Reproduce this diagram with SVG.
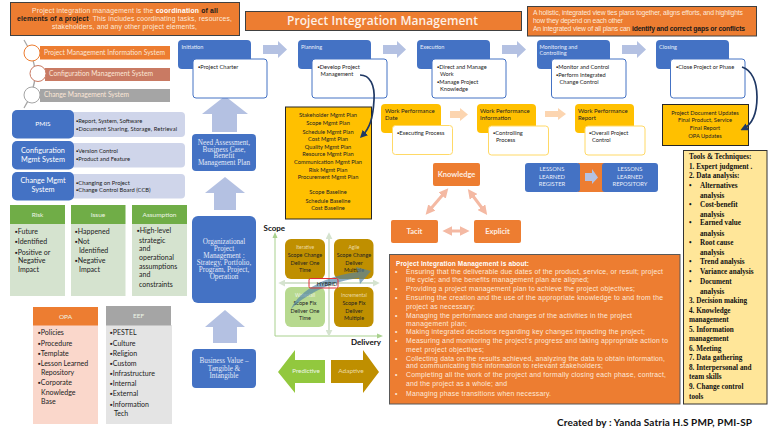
<svg xmlns="http://www.w3.org/2000/svg" width="768" height="433" viewBox="0 0 768 433">
<style>
text{font-family:"Liberation Sans",Arial,sans-serif;font-size:6px;fill:#222}
.c{text-anchor:middle}
.a7{font-size:6.800px;fill:#fde9da}
.dk{font-weight:bold;fill:#1a1a1a}
.wb{font-weight:bold;fill:#fff}
.bar{font-family:Lato,sans-serif;font-size:6.700px;fill:#fbe5d6}
.hw{font-family:Lato,sans-serif;font-size:7.300px;fill:#fff}
.it{font-family:Lato,sans-serif;font-size:5.800px}
.pr{font-family:Lato,sans-serif;font-size:5.700px}
.ph{font-family:Lato,sans-serif;font-size:5.600px;fill:#e8eefa}
.gh{font-family:Lato,sans-serif;font-size:6.500px;fill:#eef5e8}
.li{font-family:Lato,sans-serif;font-size:7px}
.yl{font-family:Lato,sans-serif;font-size:5.700px}
.yh{font-family:Lato,sans-serif;font-size:6px}
.kt{font-family:Lato,sans-serif;font-size:7.500px;font-weight:bold;fill:#fdeee4}
.lt{font-family:Lato,sans-serif;font-size:5.800px;fill:#e8eefa}
.tl{font-family:"Liberation Serif",serif;font-weight:bold;font-size:7.200px;fill:#111}
.se{font-family:"Liberation Serif",serif;font-size:7.200px;fill:#e3e9f7}
.qh{font-family:Lato,sans-serif;font-size:5px;fill:#ecdba8}
.qt{font-family:Lato,sans-serif;font-size:5.500px;fill:#222}
.ax{font-family:Lato,sans-serif;font-size:8px;font-weight:bold;fill:#111}
.o{fill:#ed7d31;stroke:#404040;stroke-width:1}
.b{fill:#4472c4}
.in{fill:#fff;stroke:#4472c4;stroke-width:1}
.y{fill:#ffc000}
.yi{fill:#fff;stroke:#ffd966;stroke-width:1}
.yb{fill:#ffc000;stroke:#262626;stroke-width:1}
.ar{fill:#b4c1e2}
.ya{fill:#fcd5b0}
.lr{fill:#cfd5ea}
.g{fill:#70ad47}
.gb{fill:#d5e3cf}
.gold{fill:#bf8f00}
.kb{fill:#ed7d31}
</style>
<defs>
<marker id="am" viewBox="0 0 8 8" refX="5" refY="4" markerWidth="4.500" markerHeight="4.500" orient="auto"><path d="M0 0L8 4L0 8Z" fill="#1f3864"/></marker>
<marker id="la" viewBox="0 0 8 8" refX="6" refY="4" markerWidth="3.500" markerHeight="3.500" orient="auto-start-reverse"><path d="M0 0L8 4L0 8Z" fill="#d5e3cf"/></marker>
<marker id="pa" viewBox="0 0 8 8" refX="5" refY="4" markerWidth="3.200" markerHeight="3.200" orient="auto-start-reverse"><path d="M0 0L8 4L0 8Z" fill="#f4b9a3"/></marker>
</defs>
<rect width="768" height="433" fill="#fff"/>

<g id="intro"><rect class="o" x="10.500" y="2.500" width="229" height="33"/>
<text class="a7" x="32" y="13" textLength="186">Project integration management is the <tspan font-weight="bold" fill="#fff">coordination</tspan> <tspan class="dk">of all</tspan></text>
<text class="a7" x="17" y="21" textLength="215"><tspan class="dk">elements of a project</tspan>. This includes coordinating tasks, resources,</text>
<text class="a7" x="52" y="29" textLength="145">stakeholders, and any other project elements,</text></g>
<g id="title"><rect class="o" x="245.500" y="11.500" width="276" height="19"/>
<text x="287" y="25" textLength="191" style="font-size:12px;font-family:'Open Sans',sans-serif;font-weight:600;fill:#fdf0e6">Project Integration Management</text></g>
<g id="holistic"><rect class="o" x="527.500" y="6.500" width="229" height="29.500"/>
<text class="a7" x="533" y="15" textLength="210">A holistic, integrated view ties plans together, aligns efforts, and highlights</text>
<text class="a7" x="533" y="22.500" textLength="90">how they depend on each other</text>
<text class="a7" x="533" y="30.500" textLength="212">An integrated view of all plans can <tspan class="dk">identify and correct gaps or conflicts</tspan></text></g>

<g id="sys-arc"><path d="M24 40Q46 74 24 108" fill="none" stroke="#a6a6a6" stroke-width="1.300"/></g>
<g id="pmis-bar"><rect x="40" y="46" width="130" height="13.500" fill="#ed7d31"/><circle cx="32" cy="53" r="8" fill="#fff" stroke="#ed7d31"/><text class="bar" x="44" y="54.800" textLength="121">Project Management Information System</text></g>
<g id="config-bar"><rect x="45" y="68" width="125" height="13" fill="#c97a63"/><circle cx="38" cy="73.500" r="8" fill="#fff" stroke="#c97a63"/><text class="bar" x="49" y="76" textLength="104">Configuration Management System</text></g>
<g id="change-bar"><rect x="40" y="89" width="130" height="13" fill="#a5a5a5"/><circle cx="32" cy="95" r="8" fill="#fff" stroke="#a5a5a5"/><text class="bar" x="44" y="97.300" textLength="85">Change Management System</text></g>

<g id="pmis"><rect class="lr" x="60" y="112" width="125" height="25" rx="4"/><rect class="b" x="12" y="110" width="62" height="28.500" rx="5"/>
<text class="hw c" x="43" y="126" style="font-size:6.500px">PMIS</text>
<text class="it" x="76" y="122.500">▪Report, System, Software</text><text class="it" x="76" y="130.500" textLength="101">▪Document Sharing, Storage, Retrieval</text></g>
<g id="config"><rect class="lr" x="60" y="143" width="125" height="24.500" rx="4"/><rect class="b" x="12" y="141" width="62" height="28.500" rx="5"/>
<text class="hw c" x="43" y="153">Configuration</text><text class="hw c" x="43" y="161.500">Mgmt System</text>
<text class="it" x="76" y="153">▪Version Control</text><text class="it" x="76" y="161">▪Product and Feature</text></g>
<g id="change"><rect class="lr" x="60" y="174" width="125" height="24.500" rx="4"/><rect class="b" x="12" y="172" width="62" height="28.500" rx="5"/>
<text class="hw c" x="43" y="183">Change Mgmt</text><text class="hw c" x="43" y="192">System</text>
<text class="it" x="76" y="184.500">▪Changing on Project</text><text class="it" x="76" y="192">▪Change Control Board (CCB)</text></g>

<g id="risk"><rect class="gb" x="10" y="224" width="55" height="72"/><rect class="g" x="10" y="205" width="55" height="19"/>
<text class="gh c" x="37.500" y="216.500">Risk</text>
<text class="li" x="15" y="234">▪Future</text><text class="li" x="15" y="244">▪Identified</text><text class="li" x="15" y="255">▪Positive or</text><text class="li" x="18" y="263">Negative</text><text class="li" x="18" y="272">Impact</text></g>
<g id="issue"><rect class="gb" x="71" y="224" width="54.500" height="72"/><rect class="g" x="71" y="205" width="54.500" height="19"/>
<text class="gh c" x="98" y="216.500">Issue</text>
<text class="li" x="75" y="234">▪Happened</text><text class="li" x="75" y="244">▪Not</text><text class="li" x="79" y="253">Identified</text><text class="li" x="75" y="263">▪Negative</text><text class="li" x="79" y="272">Impact</text></g>
<g id="assumption"><rect class="gb" x="132" y="224" width="55" height="72"/><rect class="g" x="132" y="205" width="55" height="19"/>
<text class="gh c" x="159.500" y="216.500">Assumption</text>
<text class="li" x="137" y="233">▪High-level</text><text class="li" x="139" y="243">strategic</text><text class="li" x="139" y="251">and</text><text class="li" x="139" y="260">operational</text><text class="li" x="139" y="269">assumptions</text><text class="li" x="139" y="277">and</text><text class="li" x="139" y="287">constraints</text></g>

<g id="opa"><rect x="33" y="325" width="65" height="99" fill="#fad7cb"/><rect x="33" y="307" width="65" height="18.500" fill="#ed7d31"/>
<text class="gh c" x="65.500" y="318.500">OPA</text>
<text class="li" x="38" y="335">▪Policies</text><text class="li" x="38" y="346">▪Procedure</text><text class="li" x="38" y="356">▪Template</text><text class="li" x="38" y="366">▪Lesson Learned</text><text class="li" x="41" y="375">Repository</text><text class="li" x="38" y="385">▪Corporate</text><text class="li" x="41" y="395">Knowledge</text><text class="li" x="41" y="404">Base</text></g>
<g id="eef"><rect x="106" y="325" width="66" height="99" fill="#e4e4e4"/><rect x="106" y="306" width="65" height="19.500" fill="#a5a5a5"/>
<text class="gh c" x="138.500" y="318">EEF</text>
<text class="li" x="110" y="335">▪PESTEL</text><text class="li" x="110" y="346">▪Culture</text><text class="li" x="110" y="356">▪Religion</text><text class="li" x="110" y="366">▪Custom</text><text class="li" x="110" y="376">▪Infrastructure</text><text class="li" x="110" y="386">▪Internal</text><text class="li" x="110" y="396">▪External</text><text class="li" x="110" y="407">▪Information</text><text class="li" x="114" y="416">Tech</text></g>

<g id="process-arrows">
<path class="ar" d="M263 45H278V41L287 49.500L278 58V54H263Z"/>
<path class="ar" d="M383 45H397V41L406 49.500L397 58V54H383Z"/>
<path class="ar" d="M502 45H517V41L526 49.500L517 58V54H502Z"/>
<path class="ar" d="M622 45H637V41L646 49.500L637 58V54H622Z"/>
<path class="ar" d="M202 114L225 96L248 114H237V132H212V114Z"/>
<path class="ar" d="M205 193L225 177L245 193H236V210H214V193Z"/>
<path class="ar" d="M205 327L225 310L245 327H237V343H213V327Z"/>
<path class="ya" d="M450 111H460V108L468 114.500L460 121V118H450Z"/>
<path class="ya" d="M545 111H558V108L566 114L558 120V117H545Z"/>
</g>

<g id="initiation"><rect class="b" x="178" y="40" width="73" height="29" rx="4"/><text class="ph" x="181.500" y="48.500">Initiation</text><rect class="in" x="193" y="59" width="74" height="39" rx="3"/><text class="pr" x="198" y="68.800">▪Project Charter</text></g>
<g id="planning"><rect class="b" x="298" y="40" width="73" height="29" rx="4"/><text class="ph" x="301" y="48.500">Planning</text><rect class="in" x="312" y="59" width="75" height="39" rx="3"/><text class="pr" x="317.500" y="68.800">▪Develop Project</text><text class="pr" x="320.500" y="76">Management</text></g>
<g id="execution"><rect class="b" x="417" y="40" width="73" height="29" rx="4"/><text class="ph" x="420" y="48.500">Execution</text><rect class="in" x="432" y="59" width="74" height="39" rx="3"/><text class="pr" x="437" y="68.800">▪Direct and Manage</text><text class="pr" x="440" y="75.800">Work</text><text class="pr" x="437" y="84">▪Manage Project</text><text class="pr" x="440" y="91">Knowledge</text></g>
<g id="monitoring"><rect class="b" x="537" y="40" width="73" height="29" rx="4"/><text class="ph" x="539.500" y="48.500">Monitoring and</text><text class="ph" x="539.500" y="54.500">Controlling</text><rect class="in" x="551.500" y="59" width="74.500" height="39" rx="3"/><text class="pr" x="556" y="68.800">▪Monitor and Control</text><text class="pr" x="556" y="76.800">▪Perform Integrated</text><text class="pr" x="559.500" y="83.800">Change Control</text></g>
<g id="closing"><rect class="b" x="656" y="40" width="73" height="29" rx="4"/><text class="ph" x="659" y="48.500">Closing</text><rect class="in" x="670.500" y="59" width="74.500" height="39" rx="3"/><text class="pr" x="676" y="68.800">▪Close Project or Phase</text></g>

<g id="plan-list"><rect class="yb" x="285.500" y="107" width="86" height="112"/>
<text class="yl c" x="328" y="117">Stakeholder Mgmt Plan</text><text class="yl c" x="328" y="125">Scope Mgmt Plan</text><text class="yl c" x="328" y="133.500">Schedule Mgmt Plan</text><text class="yl c" x="328" y="140.500">Cost Mgmt Plan</text><text class="yl c" x="328" y="148.800">Quality Mgmt Plan</text><text class="yl c" x="328" y="156">Resource Mgmt Plan</text><text class="yl c" x="328" y="164">Communication Mgmt Plan</text><text class="yl c" x="328" y="172">Risk Mgmt Plan</text><text class="yl c" x="328" y="179">Procurement Mgmt Plan</text><text class="yl c" x="328" y="194">Scope Baseline</text><text class="yl c" x="328" y="202.500">Schedule Baseline</text><text class="yl c" x="328" y="210">Cost Baseline</text></g>
<g id="wp-data"><rect class="y" x="381" y="104" width="60" height="29" rx="4"/><text class="yh" x="385" y="112.500">Work Performance</text><text class="yh" x="385" y="119.500">Date</text><rect class="yi" x="392.500" y="125.500" width="60" height="29" rx="3"/><text class="pr" x="397" y="135">▪Executing Process</text></g>
<g id="wp-info"><rect class="y" x="477" y="104" width="59" height="29" rx="4"/><text class="yh" x="480" y="112.500">Work Performance</text><text class="yh" x="480" y="119.500">Information</text><rect class="yi" x="488.500" y="126" width="60" height="29" rx="3"/><text class="pr" x="493" y="135">▪Controlling</text><text class="pr" x="496" y="141.500">Process</text></g>
<g id="wp-report"><rect class="y" x="575" y="104" width="59" height="29" rx="4"/><text class="yh" x="578" y="112.500">Work Performance</text><text class="yh" x="578" y="119.500">Report</text><rect class="yi" x="585" y="126" width="60" height="29" rx="3"/><text class="pr" x="589" y="135">▪Overall Project</text><text class="pr" x="592" y="141.500">Control</text></g>
<g id="closing-out"><rect class="yb" x="662.500" y="104.500" width="86" height="41"/>
<text class="yl c" x="705" y="114.500">Project Document Updates</text><text class="yl c" x="705" y="122.300">Final Product, Service</text><text class="yl c" x="705" y="130.300">Final Report</text><text class="yl c" x="705" y="137.500">OPA Updates</text></g>

<g id="connectors" fill="none">
<path d="M360 75C370 75 375 85 374 100C373 118 370 128 362 136" stroke="#1f3864" stroke-width="1.700" marker-end="url(#am)"/>
<path d="M742 67C752 70 757 82 757 97C757 112 753 124 743 129" stroke="#1f3864" stroke-width="1.700" marker-end="url(#am)"/>
<path d="M446 191L428 212" stroke="#f4b9a3" stroke-width="3" marker-start="url(#pa)" marker-end="url(#pa)"/>
<path d="M470 192L485 212" stroke="#f4b9a3" stroke-width="3" marker-start="url(#pa)" marker-end="url(#pa)"/>
<path d="M446 231H466" stroke="#f4b9a3" stroke-width="3" marker-start="url(#pa)" marker-end="url(#pa)"/>
</g>

<g id="knowledge"><rect class="kb" x="433" y="163" width="47" height="23" rx="2"/><text class="kt c" x="456.500" y="176.500">Knowledge</text></g>
<g id="tacit"><rect class="kb" x="391" y="220" width="47" height="23" rx="2"/><text class="kt c" x="414.500" y="233.500">Tacit</text></g>
<g id="explicit"><rect class="kb" x="474" y="220" width="47" height="23" rx="2"/><text class="kt c" x="497.500" y="233.500">Explicit</text></g>

<g id="lessons"><rect class="kb" x="578" y="163" width="27" height="29"/>
<rect class="b" x="525" y="163" width="55" height="29" rx="3"/><rect class="b" x="602" y="163" width="56" height="29" rx="3"/>
<path class="ar" d="M585 173H592V169L598 177.500L592 184V181H585Z"/>
<text class="lt c" x="552" y="170.500">LESSONS</text><text class="lt c" x="552" y="178.500">LEARNED</text><text class="lt c" x="552" y="185.500">REGISTER</text>
<text class="lt c" x="630" y="170.500">LESSONS</text><text class="lt c" x="630" y="178.500">LEARNED</text><text class="lt c" x="630" y="185.500">REPOSITORY</text></g>

<g id="about"><rect class="o" x="389.500" y="254.500" width="290.500" height="149.500" style="stroke:#595959"/>
<text class="wb" x="396" y="265.500" textLength="133" style="font-size:6.500px">Project Integration Management is about:</text>
<text class="a7" x="406" y="274" textLength="257">Ensuring that the deliverable due dates of the product, service, or result; project</text>
<text class="a7" x="406" y="282.300" textLength="183">life cycle; and the benefits management plan are aligned;</text>
<text class="a7" x="406" y="291.300" textLength="229">Providing a project management plan to achieve the project objectives;</text>
<text class="a7" x="406" y="299.600" textLength="257">Ensuring the creation and the use of the appropriate knowledge to and from the</text>
<text class="a7" x="406" y="308.600" textLength="69">project as necessary;</text>
<text class="a7" x="406" y="317.600" textLength="226">Managing the performance and changes of the activities in the project</text>
<text class="a7" x="406" y="325.600" textLength="61">management plan;</text>
<text class="a7" x="406" y="334" textLength="239">Making integrated decisions regarding key changes impacting the project;</text>
<text class="a7" x="406" y="343" textLength="262">Measuring and monitoring the project's progress and taking appropriate action to</text>
<text class="a7" x="406" y="352" textLength="78">meet project objectives;</text>
<text class="a7" x="406" y="361" textLength="259">Collecting data on the results achieved, analyzing the data to obtain information,</text>
<text class="a7" x="406" y="368.300" textLength="197">and communicating this information to relevant stakeholders;</text>
<text class="a7" x="406" y="377.300" textLength="260">Completing all the work of the project and formally closing each phase, contract,</text>
<text class="a7" x="406" y="386.300" textLength="101">and the project as a whole; and</text>
<text class="a7" x="406" y="395.600" textLength="145">Managing phase transitions when necessary.</text>
<text class="a7" x="395" y="274">•</text><text class="a7" x="395" y="291.300">•</text><text class="a7" x="395" y="299.600">•</text><text class="a7" x="395" y="317.600">•</text><text class="a7" x="395" y="334">•</text><text class="a7" x="395" y="343">•</text><text class="a7" x="395" y="361">•</text><text class="a7" x="395" y="377.300">•</text><text class="a7" x="395" y="395.600">•</text>
</g>

<g id="tools"><rect x="683.500" y="150.500" width="83.500" height="253.500" fill="#ffe699" stroke="#333" stroke-width="1"/>
<text class="tl" x="689" y="159">Tools &amp; Techniques:</text><text class="tl" x="689" y="169">1. Expert judgment .</text><text class="tl" x="689" y="178">2. Data analysis:</text>
<text class="tl" x="689" y="188">•</text><text class="tl" x="700" y="188">Alternatives</text><text class="tl" x="700" y="198">analysis</text>
<text class="tl" x="689" y="207">•</text><text class="tl" x="700" y="207">Cost-benefit</text><text class="tl" x="700" y="217">analysis</text>
<text class="tl" x="689" y="225">•</text><text class="tl" x="700" y="225">Earned value</text><text class="tl" x="700" y="236">analysis</text>
<text class="tl" x="689" y="245">•</text><text class="tl" x="700" y="245">Root cause</text><text class="tl" x="700" y="255">analysis</text>
<text class="tl" x="689" y="264">•</text><text class="tl" x="700" y="264">Trend analysis</text>
<text class="tl" x="689" y="274">•</text><text class="tl" x="700" y="274">Variance analysis</text>
<text class="tl" x="689" y="284">•</text><text class="tl" x="700" y="284">Document</text><text class="tl" x="700" y="294">analysis</text>
<text class="tl" x="689" y="303">3. Decision making</text><text class="tl" x="689" y="313">4. Knowledge</text><text class="tl" x="689" y="322">management</text><text class="tl" x="689" y="332">5. Information</text><text class="tl" x="689" y="341">management</text><text class="tl" x="689" y="351">6. Meeting</text><text class="tl" x="689" y="360">7. Data gathering</text><text class="tl" x="689" y="370">8. Interpersonal and</text><text class="tl" x="689" y="379">team skills</text><text class="tl" x="689" y="389">9. Change control</text><text class="tl" x="689" y="399">tools</text></g>

<g id="need"><rect class="b" x="192" y="134" width="64" height="37" rx="4"/><text class="se c" x="224" y="144.500">Need Assessment,</text><text class="se c" x="224" y="151.500">Business Case,</text><text class="se c" x="224" y="158">Benefit</text><text class="se c" x="224" y="165">Management Plan</text></g>
<g id="org"><rect class="b" x="192" y="216" width="64" height="87" rx="6"/><text class="se c" x="224" y="244">Organizational</text><text class="se c" x="224" y="251">Project</text><text class="se c" x="224" y="258">Management :</text><text class="se c" x="224" y="265">Strategy, Portfolio,</text><text class="se c" x="224" y="272">Program, Project,</text><text class="se c" x="224" y="279">Operation</text></g>
<g id="business"><rect class="b" x="192" y="349" width="64" height="39" rx="4"/><text class="se c" x="224" y="363">Business Value –</text><text class="se c" x="224" y="370.500">Tangible &amp;</text><text class="se c" x="224" y="377.500">Intangible</text></g>

<g id="quadrant">
<path d="M275 336V236M275 336H378" fill="none" stroke="#a9d18e" stroke-width="1"/>
<path d="M272.500 238L275 232L277.500 238ZM377 333.500V338.500L383 336Z" fill="#a9d18e"/>
<path d="M329 335V234" stroke="#d5e3cf" stroke-width="2" marker-start="url(#la)" marker-end="url(#la)"/>
<path d="M280 283H378" stroke="#d5e3cf" stroke-width="2" marker-start="url(#la)" marker-end="url(#la)"/>
<text class="ax" x="263.500" y="231">Scope</text>
<text class="ax" x="351" y="345">Delivery</text>
<rect class="gold" x="285" y="239" width="40" height="40" rx="6"/>
<text class="qh c" x="305" y="249">Iterative</text><text class="qt c" x="305" y="257">Scope Change</text><text class="qt c" x="305" y="265">Deliver One</text><text class="qt c" x="305" y="272">Time</text>
<rect class="gold" x="334" y="239" width="39.500" height="40" rx="6"/>
<text class="qh c" x="354" y="249">Agile</text><text class="qt c" x="354" y="257">Scope Change</text><text class="qt c" x="354" y="265">Deliver</text><text class="qt c" x="354" y="272">Multiple</text>
<rect x="285" y="287" width="40" height="40" rx="6" fill="#b7d98f"/>
<text class="qh c" x="305" y="297" style="fill:#f0f5e4">Waterfall</text><text class="qt c" x="305" y="305">Scope Fix</text><text class="qt c" x="305" y="313">Deliver One</text><text class="qt c" x="305" y="320">Time</text>
<rect class="gold" x="334" y="287" width="39.500" height="40" rx="6"/>
<text class="qh c" x="354" y="297">Incremental</text><text class="qt c" x="354" y="305">Scope Fix</text><text class="qt c" x="354" y="313">Deliver</text><text class="qt c" x="354" y="320">Multiple</text>
<path d="M291 309C300 290 325 276 358 272L356 267L371 271L360 284L359 278C335 281 308 292 291 309Z" fill="#4f81a8" fill-opacity=".65"/>
<rect x="309" y="278.500" width="29" height="9.500" rx="1.500" fill="none" stroke="#e0303a" stroke-width="1"/>
<text class="qt c" x="327" y="285.800">HYBRID</text>
</g>
<g id="predictive"><path d="M278 372L295 350V360H325V383H295V393Z" fill="#92c83e"/><text class="gh c" x="306" y="372.800" style="font-size:6.300px">Predictive</text></g>
<g id="adaptive"><path d="M331 360H363V350L379 372L363 393V383H331Z" fill="#bf8f00"/><text class="qh c" x="351" y="372.800" style="font-size:6.500px">Adaptive</text></g>

<g id="credit"><text x="557" y="426" textLength="195" style="font-size:10px;font-weight:bold;font-family:Lato,sans-serif;fill:#111">Created by : Yanda Satria H.S PMP, PMI-SP</text></g>
</svg>
